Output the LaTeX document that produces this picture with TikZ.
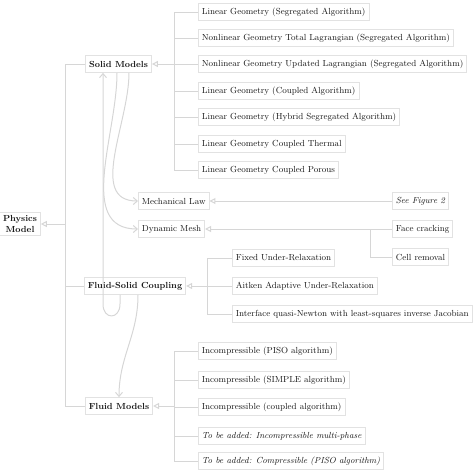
\documentclass[tikz,border=0pt]{standalone}
\usepackage{xcolor}
\usepackage{tikz}
\usetikzlibrary{arrows.meta,positioning,calc}

\definecolor{linegray}{RGB}{214,214,214}
\definecolor{boxgray}{RGB}{226,226,226}
\definecolor{textgray}{RGB}{25,25,25}

\tikzset{
  box/.style={draw=boxgray,line width=0.8pt,fill=white,text=textgray,inner xsep=3.5pt,
    minimum height=17pt,font=\fontsize{8.8}{10.5}\selectfont},
  leaf/.style={box,anchor=west},
  note/.style={leaf,font=\fontsize{8.8}{10.5}\selectfont\itshape},
  head/.style={box,font=\fontsize{8.8}{10.5}\selectfont\bfseries},
  conn/.style={draw=linegray,line width=1pt},
  tri/.style={-{Triangle[open,length=6pt,width=6pt,fill=white]}},
  link/.style={conn,-{Straight Barb[length=4pt,width=7pt]}}
}

\begin{document}
\begin{tikzpicture}[x=1pt,y=-1pt]
\useasboundingbox (0,0) rectangle (474,474);
% main blocks
\node[head,align=center,minimum width=40pt] (pm) at (20,224) {Physics\\Model};
\node[head] (solid) at (118.5,64) {Solid Models};
\node[head] (fsc) at (135,286) {Fluid-Solid Coupling};
\node[head] (fluid) at (119,406) {Fluid Models};
% solid model leaves
\node[leaf] (sl1) at (198,12) {Linear Geometry (Segregated Algorithm)};
\node[leaf] (sl2) at (198,38) {Nonlinear Geometry Total Lagrangian (Segregated Algorithm)};
\node[leaf] (sl3) at (198,64) {Nonlinear Geometry Updated Lagrangian (Segregated Algorithm)};
\node[leaf] (sl4) at (198,91) {Linear Geometry (Coupled Algorithm)};
\node[leaf] (sl5) at (198,117) {Linear Geometry (Hybrid Segregated Algorithm)};
\node[leaf] (sl6) at (198,144) {Linear Geometry Coupled Thermal};
\node[leaf] (sl7) at (198,170) {Linear Geometry Coupled Porous};
% mechanical law and mesh
\node[leaf] (mech) at (138,201) {Mechanical Law};
\node[leaf] (dyn) at (138,229) {Dynamic Mesh};
\node[note] (fig2) at (392,201) {See Figure 2};
\node[leaf] (crack) at (392,229) {Face cracking};
\node[leaf] (removal) at (392,257) {Cell removal};
% coupling leaves
\node[leaf] (cl1) at (232,258) {Fixed Under-Relaxation};
\node[leaf] (cl2) at (232,286) {Aitken Adaptive Under-Relaxation};
\node[leaf] (cl3) at (232,314) {Interface quasi-Newton with least-squares inverse Jacobian};
% fluid leaves
\node[leaf] (fl1) at (198,351) {Incompressible (PISO algorithm)};
\node[leaf] (fl2) at (198,380) {Incompressible (SIMPLE algorithm)};
\node[leaf] (fl3) at (198,407) {Incompressible (coupled algorithm)};
\node[note] (fl4) at (198,436) {To be added: Incompressible multi-phase};
\node[note] (fl5) at (198,461) {To be added: Compressible (PISO algorithm)};

% bus points
\coordinate (pbus) at (65,224);
\coordinate (sbus) at (174,64);
\coordinate (dbus) at (370,229);
\coordinate (cbus) at (207,286);
\coordinate (fbus) at (174,406);

\draw[conn] (solid.west) -| (pbus);
\draw[conn] (fluid.west) -| (pbus);
\draw[conn] (fsc.west) -- (fsc.west -| pbus);
\draw[conn,tri] (pbus) -- (pm.east);

\foreach \n in {sl1,sl2,sl3,sl4,sl5,sl6,sl7}
  \draw[conn] (\n.west) -| (sbus);
\draw[conn,tri] (sbus) -- (solid.east);

\draw[conn,tri] (fig2.west) -- (mech.east);
\draw[conn] (crack.west) -- (dbus);
\draw[conn] (removal.west) -| (dbus);
\draw[conn,tri] (dbus) -- (dyn.east);

\foreach \n in {cl1,cl2,cl3}
  \draw[conn] (\n.west) -| (cbus);
\draw[conn,tri] (cbus) -- (fsc.east);

\foreach \n in {fl1,fl2,fl3,fl4,fl5}
  \draw[conn] (\n.west) -| (fbus);
\draw[conn,tri] (fbus) -- (fluid.east);

% curved links
\draw[link] ([xshift=10.5pt]solid.south) to[out=-90,in=180] (mech.west);
\draw[link] ([xshift=-1.5pt]solid.south) to[out=-90,in=180] (dyn.west);
\draw[link] ([xshift=-15pt]fsc.south) -- ++(0,9) .. controls ++(0,16) and (103,320) .. (103,304) -- ([xshift=-15.5pt]solid.south);
\draw[link] ([xshift=3pt]fsc.south) to[out=-90,in=90] (fluid.north);
\end{tikzpicture}
\end{document}
